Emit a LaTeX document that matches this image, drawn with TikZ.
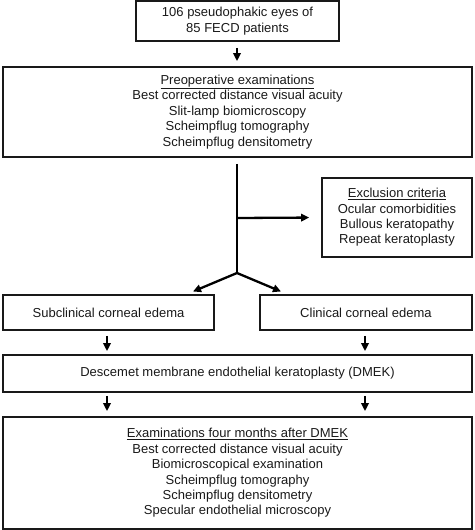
\documentclass[tikz,border=0pt]{standalone}
\usepackage{fontspec}
\setmainfont{Liberation Sans}
\usetikzlibrary{arrows.meta}
\begin{document}
\begin{tikzpicture}[x=1pt,y=-1pt,
  box/.style={draw=black!90,line width=1.8pt,rectangle,inner sep=0pt,align=center,
    font=\fontsize{13}{15.4}\selectfont,text=black!90},
  arr/.style={line width=2.3pt,-{Triangle[length=8pt,width=7.5pt]}},
  ln/.style={line width=2.3pt}]
\useasboundingbox (0,0) rectangle (474,530);
\node[box,minimum width=203pt,minimum height=40pt] (top) at (237.5,21) {106 pseudophakic eyes of\\85 FECD patients};
\node[box,minimum width=469pt,minimum height=90pt] (preop) at (237.5,112) {\underline{Preoperative examinations}\\Best corrected distance visual acuity\\Slit-lamp biomicroscopy\\Scheimpflug tomography\\Scheimpflug densitometry};
\node[box,minimum width=150pt,minimum height=79pt] (excl) at (397,217.5) {\underline{Exclusion criteria}\\Ocular comorbidities\\Bullous keratopathy\\Repeat keratoplasty};
\node[box,minimum width=211pt,minimum height=35pt] (sub) at (108.5,312.5) {Subclinical corneal edema};
\node[box,minimum width=212pt,minimum height=35pt] (clin) at (366,312.5) {Clinical corneal edema};
\node[box,minimum width=469pt,minimum height=37pt] (dmek) at (237.5,373.5) {Descemet membrane endothelial keratoplasty (DMEK)};
\node[box,minimum width=469pt,minimum height=112pt] (final) at (237.5,473) {\underline{Examinations four months after DMEK}\\Best corrected distance visual acuity\\Biomicroscopical examination\\Scheimpflug tomography\\Scheimpflug densitometry\\Specular endothelial microscopy};
\coordinate (split) at (237,273);
\coordinate (branch) at (237,218);
\coordinate (subend) at (193,291.5);
\coordinate (clinend) at (281,291.5);
\draw[arr,shorten <=6pt,shorten >=5pt] (top.south -| split) -- (preop.north -| split);
\draw[ln,shorten <=6pt] (preop.south -| split) -- (split);
\draw[arr,shorten >=12pt] (branch) -- (excl.west);
\draw[arr] (split) -- (subend);
\draw[arr] (split) -- (clinend);
\draw[arr,shorten <=5pt,shorten >=3pt] (sub.south -| 107,0) -- (dmek.north -| 107,0);
\draw[arr,shorten <=5pt,shorten >=3pt] (clin.south -| 365,0) -- (dmek.north -| 365,0);
\draw[arr,shorten <=3pt,shorten >=5pt] (dmek.south -| 107,0) -- (final.north -| 107,0);
\draw[arr,shorten <=3pt,shorten >=5pt] (dmek.south -| 365,0) -- (final.north -| 365,0);
\end{tikzpicture}
\end{document}
